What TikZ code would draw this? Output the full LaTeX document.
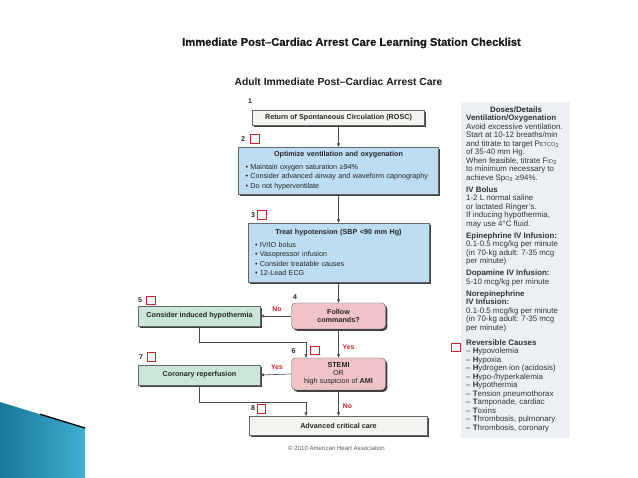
\documentclass[tikz,border=0pt]{standalone}
\usepackage{fontspec}
\setmainfont{Liberation Sans}
\newfontfamily\titelfont[FakeBold=0.6]{Liberation Sans Bold}
\usetikzlibrary{arrows.meta,shadows}

\definecolor{blau}{HTML}{BCDDF2}
\definecolor{rosa}{HTML}{F0C3C6}
\definecolor{gruen}{HTML}{CBE6D8}
\definecolor{hell}{HTML}{F3F3EF}
\definecolor{panel}{HTML}{EDF0F3}
\definecolor{rot}{HTML}{D0202E}
\definecolor{tuerkisA}{HTML}{17779A}
\definecolor{tuerkisB}{HTML}{3FAFD3}

\newcommand{\fsz}[2]{\fontsize{#1}{#2}\selectfont}

\begin{document}
\begin{tikzpicture}[x=1pt,y=-1pt,
  kasten/.style={draw=black!60, line width=0.4pt, text=black!85, inner sep=0pt,
    font=\fsz{7.2}{9.2},
    drop shadow={shadow xshift=1.8pt, shadow yshift=-1.8pt, fill=black!75, opacity=1}},
  blaubox/.style={kasten, fill=blau, inner xsep=7pt, align=left},
  rosabox/.style={kasten, fill=rosa, rounded corners=4pt, align=center, font=\fsz{7.2}{8}},
  gruenbox/.style={kasten, fill=gruen, font=\fsz{7.2}{9.2}\bfseries},
  hellbox/.style={kasten, fill=hell, font=\fsz{7.2}{9.2}\bfseries},
  pfeil/.style={draw=black!70, line width=0.6pt, -{Triangle[length=3.4pt,width=3pt]}},
  linie/.style={draw=black!70, line width=0.6pt},
  ja/.style={text=rot, font=\fsz{6.8}{8}\bfseries, inner sep=0pt},
  nr/.style={text=black!85, font=\fsz{7}{8}\bfseries, inner sep=0pt},
  kb/.style={draw=rot, fill=white, line width=0.6pt, minimum size=8.5pt, inner sep=0pt}
]

% Bildgrenzen (in Pixeln der Vorlage)
\def\xmin{0}
\def\xmax{638}
\def\ymin{0}
\def\ymax{478}
\useasboundingbox (\xmin,\ymin) rectangle (\xmax,\ymax);

% ------------------- Folien-Deko unten links -------------------
\shade[left color=tuerkisA, right color=tuerkisB] (0,402) -- (85,428) -- (85,478) -- (0,478) -- cycle;
\draw[black, line width=1.3pt] (40,414.2) -- (85,428);

% ------------------- Titel -------------------
\node[text=black!90, font=\fsz{11.2}{13}\titelfont] (titel) at (351.5,43)
  {Immediate Post–Cardiac Arrest Care Learning Station Checklist};
\node[text=black!90, font=\fsz{10.3}{12}\bfseries] (untertitel) at (338.5,82)
  {Adult Immediate Post–Cardiac Arrest Care};

% ------------------- Ablauf -------------------
\node[hellbox, minimum width=172, minimum height=15] (rosc) at (338.5,117.5)
  {Return of Spontaneous Circulation (ROSC)};

\node[blaubox, text width=186, minimum height=47] (vent) at (338.5,170.5)
  {\centering\bfseries Optimize ventilation and oxygenation\par\vspace{3.8pt}
   \raggedright\mdseries
   \textbullet\ Maintain oxygen saturation ≥94\%\\
   \textbullet\ Consider advanced airway and waveform capnography\\
   \textbullet\ Do not hyperventilate};

\node[blaubox, text width=167, minimum height=59] (hypot) at (338.5,252.5)
  {\centering\bfseries Treat hypotension (SBP <90 mm Hg)\par\vspace{3.8pt}
   \raggedright\mdseries
   \textbullet\ IV/IO bolus\\
   \textbullet\ Vasopressor infusion\\
   \textbullet\ Consider treatable causes\\
   \textbullet\ 12-Lead ECG};

\node[rosabox, minimum width=94, minimum height=26] (follow) at (338.5,316)
  {\bfseries Follow\\ \bfseries commands?};

\node[gruenbox, minimum width=122, minimum height=20] (hypo) at (199.5,316)
  {Consider induced hypothermia};

\node[rosabox, minimum width=94, minimum height=32] (stemi) at (338.5,374)
  {\bfseries STEMI\\ OR\\ high suspicion of \textbf{AMI}};

\node[gruenbox, minimum width=122, minimum height=20] (reperf) at (199.5,375)
  {Coronary reperfusion};

\node[hellbox, minimum width=178, minimum height=19] (acc) at (338.5,425.5)
  {Advanced critical care};

% Nummern und Kaestchen
\node[nr] (n1) at (250,101) {1};
\node[nr] (n2) at (243,139) {2};
\node[kb] (k2) at (255,139) {};
\node[nr] (n3) at (253,215) {3};
\node[kb] (k3) at (262,215) {};
\node[nr] (n4) at (295,297) {4};
\node[nr] (n5) at (140,300) {5};
\node[kb] (k5) at (151,300.5) {};
\node[nr] (n6) at (293.5,351.5) {6};
\node[kb] (k6) at (315,350.5) {};
\node[nr] (n7) at (141,357) {7};
\node[kb] (k7) at (151.5,357) {};
\node[nr] (n8) at (253,408.5) {8};
\node[kb] (k8) at (261.5,409) {};

% Verbindungen
\draw[pfeil] (rosc.south) -- (vent.north);
\draw[pfeil] (vent.south) -- (hypot.north);
\draw[pfeil] (hypot.south) -- (follow.north);
\draw[pfeil] (follow.west) -- (hypo.east);
\draw[pfeil] (follow.south) -- (stemi.north);
\draw[pfeil] (stemi.west) -- (reperf.east);
\draw[pfeil] (stemi.south) -- (acc.north);

\coordinate (knick1) at (306,342);
\coordinate (knick2) at (306,402);
\draw[linie] (hypo.south) |- (knick1);
\draw[pfeil] (knick1) -- (knick1 |- stemi.north);
\draw[linie] (reperf.south) |- (knick2);
\draw[pfeil] (knick2) -- (knick2 |- acc.north);

\node[ja] (nein1) at (277,309.5) {No};
\node[ja] (ja1) at (348.5,347) {Yes};
\node[ja] (ja2) at (277,367.5) {Yes};
\node[ja] (nein2) at (347.5,406) {No};

% ------------------- Dosen / Details -------------------
\fill[panel] (461,102) rectangle (570,438);
\node[text=black!85, font=\fsz{7.9}{9}\bfseries, inner sep=0pt] (dosen) at (516,110) {Doses/Details};
\node[anchor=north west, inner sep=0pt, align=left, text=black!80, font=\fsz{7.9}{8.5}] (details) at (466,115)
  {\textbf{Ventilation/Oxygenation}\\
   Avoid excessive ventilation.\\
   Start at 10-12 breaths/min\\
   and titrate to target P{\fsz{5.6}{5}ETCO}\textsubscript{2}\\
   of 35-40 mm Hg.\\
   When feasible, titrate F{\fsz{5.6}{5}IO}\textsubscript{2}\\
   to minimum necessary to\\
   achieve Sp{\fsz{5.6}{5}O}\textsubscript{2} ≥94\%.\\[3.5pt]
   \textbf{IV Bolus}\\
   1-2 L normal saline\\
   or lactated Ringer's.\\
   If inducing hypothermia,\\
   may use 4°C fluid.\\[3.5pt]
   \textbf{Epinephrine IV Infusion:}\\
   0.1-0.5 mcg/kg per minute\\
   (in 70-kg adult: 7-35 mcg\\
   per minute)\\[3.5pt]
   \textbf{Dopamine IV Infusion:}\\
   5-10 mcg/kg per minute\\[3.5pt]
   \textbf{Norepinephrine}\\
   \textbf{IV Infusion:}\\
   0.1-0.5 mcg/kg per minute\\
   (in 70-kg adult: 7-35 mcg\\
   per minute)\\[6.5pt]
   \textbf{Reversible Causes}\\
   – \textbf{H}ypovolemia\\
   – \textbf{H}ypoxia\\
   – \textbf{H}ydrogen ion (acidosis)\\
   – \textbf{H}ypo-/hyperkalemia\\
   – \textbf{H}ypothermia\\
   – \textbf{T}ension pneumothorax\\
   – \textbf{T}amponade, cardiac\\
   – \textbf{T}oxins\\
   – \textbf{T}hrombosis, pulmonary\\
   – \textbf{T}hrombosis, coronary};
\node[kb] (k9) at (456,347.5) {};

% Copyright
\node[text=black!65, font=\fsz{6.1}{7}] (copy) at (336.5,448) {© 2010 American Heart Association};

\end{tikzpicture}
\end{document}
